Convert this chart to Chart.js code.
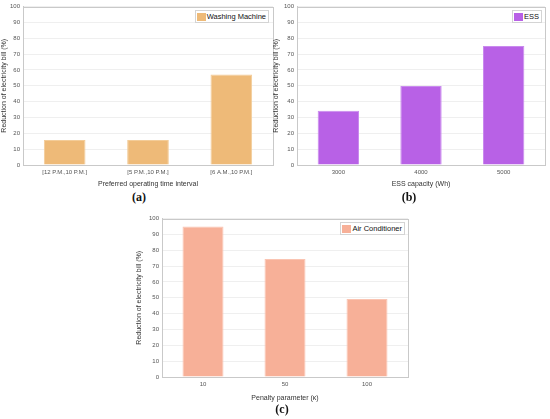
<!DOCTYPE html>
<html>
<head>
<meta charset="utf-8">
<script src="https://cdn.jsdelivr.net/npm/chart.js@4"></script>
<style>
    body { margin: 0; background: #fff; }
    #wrap { position: relative; width: 550px; height: 419px; overflow: hidden; font-family: "Liberation Sans", Arial, sans-serif; }
    .box { position: absolute; }
    .tag { position: absolute; font-family: "Liberation Serif", "DejaVu Serif", serif; font-weight: bold; font-size: 12px; color: #111; transform: translate(-50%, -50%); }
    .legend { position: absolute; background: #fff; border: 1px solid #d4d4d4; font-size: 7.5px; color: #111; padding: 1px 2px 1px 1px; display: flex; align-items: center; white-space: nowrap; }
    .legend span.sw { display: inline-block; width: 9px; height: 8px; margin-right: 1px; }
</style>
</head>
<body>
<div id="wrap">
    <div class="box" style="left:0px;top:0px;width:275px;height:188px;"><canvas id="chartA"></canvas></div>
    <div class="box" style="left:272px;top:0px;width:278px;height:188px;"><canvas id="chartB"></canvas></div>
    <div class="box" style="left:135px;top:212px;width:280px;height:190px;"><canvas id="chartC"></canvas></div>
    <div class="tag" style="left:139px;top:197px;">(a)</div>
    <div class="tag" style="left:409px;top:197px;">(b)</div>
    <div class="tag" style="left:282px;top:409px;">(c)</div>
</div>
<script>
const washingLabels = ['[12 P.M.,10 P.M.]', '[5 P.M.,10 P.M.]', '[6 A.M.,10 P.M.]'];
const washingValues = [15.8, 15.8, 57.1];

const essLabels = ['3000', '4000', '5000'];
const essValues = [34.3, 49.9, 75.1];

const acLabels = ['10', '50', '100'];
const acValues = [95.0, 74.5, 49.2];

const yTicks = [0, 10, 20, 30, 40, 50, 60, 70, 80, 90, 100];
const yTitle = 'Reduction of electricity bill (%)';

const framePlugin = {
    id: 'frame',
    afterDraw(chart) {
        const a = chart.chartArea;
        const ctx = chart.ctx;
        ctx.save();
        ctx.strokeStyle = '#c9c9c9';
        ctx.lineWidth = 1;
        ctx.strokeRect(Math.round(a.left) + 0.5, Math.round(a.top) + 0.5, Math.round(a.right - a.left), Math.round(a.bottom - a.top));
        ctx.restore();
    }
};

function createBarChart(id, labels, values, name, color, edge, xTitle, yWidth, xHeight, pad, legendPos) {
    const ctx = document.getElementById(id).getContext('2d');
    const chart = new Chart(ctx, {
        type: 'bar',
        data: {
            labels: labels,
            datasets: [{
                label: name,
                data: values,
                backgroundColor: color,
                borderColor: edge,
                borderWidth: 1,
                barPercentage: 0.5,
                categoryPercentage: 1.0
            }]
        },
        options: {
            responsive: true,
            maintainAspectRatio: false,
            animation: false,
            layout: { padding: pad },
            plugins: {
                legend: { display: false },
                tooltip: { enabled: false }
            },
            scales: {
                x: {
                    grid: { display: false, drawTicks: false },
                    border: { color: '#c9c9c9' },
                    ticks: { color: '#555', font: { size: 6, family: 'Liberation Sans' }, padding: 4, maxRotation: 0 },
                    title: { display: true, text: xTitle, color: '#333', font: { size: 7, family: 'Liberation Sans' }, padding: { top: 1, bottom: 0 } },
                    afterFit(scale) { scale.height = xHeight; }
                },
                y: {
                    min: 0,
                    max: 100,
                    afterBuildTicks(scale) { scale.ticks = yTicks.map(v => ({ value: v })); },
                    grid: { color: '#efefef', drawTicks: false },
                    border: { color: '#c9c9c9' },
                    ticks: { color: '#555', font: { size: 6, family: 'Liberation Sans' }, padding: 3 },
                    title: { display: true, text: yTitle, color: '#333', font: { size: 7, family: 'Liberation Sans' }, padding: { top: 0, bottom: 1 } },
                    afterFit(scale) { scale.width = yWidth; }
                }
            }
        },
        plugins: [framePlugin]
    });

    const box = ctx.canvas.parentNode;
    const lg = document.createElement('div');
    lg.className = 'legend';
    lg.style.right = legendPos.right + 'px';
    lg.style.top = legendPos.top + 'px';
    const sw = document.createElement('span');
    sw.className = 'sw';
    sw.style.background = chart.data.datasets[0].backgroundColor;
    lg.appendChild(sw);
    lg.appendChild(document.createTextNode(chart.data.datasets[0].label));
    box.appendChild(lg);
    return chart;
}

createBarChart('chartA', washingLabels, washingValues, 'Washing Machine', '#eeba78', '#f3cc98',
    'Preferred operating time interval', 23, 23, { top: 6, right: 2, left: 0, bottom: 0 }, { right: 6, top: 10 });
createBarChart('chartB', essLabels, essValues, 'ESS', '#b861e6', '#c98aee',
    'ESS capacity (Wh)', 25, 23, { top: 6, right: 5, left: 0, bottom: 0 }, { right: 8, top: 10 });
createBarChart('chartC', acLabels, acValues, 'Air Conditioner', '#f7b098', '#fac4b2',
    'Penalty parameter (\u03BA)', 27, 25, { top: 6, right: 7, left: 0, bottom: 0 }, { right: 10, top: 10 });
</script>
</body>
</html>
